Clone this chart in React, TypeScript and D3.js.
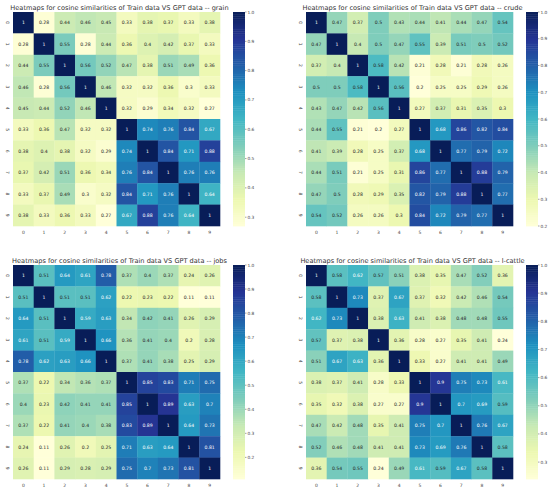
import React from 'react';
import * as d3 from 'd3';

const labels = ['0', '1', '2', '3', '4', '5', '6', '7', '8', '9'];

const grain = [
  [1, 0.28, 0.44, 0.46, 0.45, 0.33, 0.38, 0.37, 0.33, 0.38],
  [0.28, 1, 0.55, 0.28, 0.44, 0.36, 0.4, 0.42, 0.37, 0.33],
  [0.44, 0.55, 1, 0.56, 0.52, 0.47, 0.38, 0.51, 0.49, 0.36],
  [0.46, 0.28, 0.56, 1, 0.46, 0.32, 0.32, 0.36, 0.3, 0.33],
  [0.45, 0.44, 0.52, 0.46, 1, 0.32, 0.29, 0.34, 0.32, 0.27],
  [0.33, 0.36, 0.47, 0.32, 0.32, 1, 0.74, 0.76, 0.84, 0.67],
  [0.38, 0.4, 0.38, 0.32, 0.29, 0.74, 1, 0.84, 0.71, 0.88],
  [0.37, 0.42, 0.51, 0.36, 0.34, 0.76, 0.84, 1, 0.76, 0.76],
  [0.33, 0.37, 0.49, 0.3, 0.32, 0.84, 0.71, 0.76, 1, 0.64],
  [0.38, 0.33, 0.36, 0.33, 0.27, 0.67, 0.88, 0.76, 0.64, 1],
];

const crude = [
  [1, 0.47, 0.37, 0.5, 0.43, 0.44, 0.41, 0.44, 0.47, 0.54],
  [0.47, 1, 0.4, 0.5, 0.47, 0.55, 0.39, 0.51, 0.5, 0.52],
  [0.37, 0.4, 1, 0.58, 0.42, 0.21, 0.28, 0.21, 0.28, 0.26],
  [0.5, 0.5, 0.58, 1, 0.56, 0.2, 0.25, 0.25, 0.29, 0.26],
  [0.43, 0.47, 0.42, 0.56, 1, 0.27, 0.37, 0.31, 0.35, 0.3],
  [0.44, 0.55, 0.21, 0.2, 0.27, 1, 0.68, 0.86, 0.82, 0.84],
  [0.41, 0.39, 0.28, 0.25, 0.37, 0.68, 1, 0.77, 0.79, 0.72],
  [0.44, 0.51, 0.21, 0.25, 0.31, 0.86, 0.77, 1, 0.88, 0.79],
  [0.47, 0.5, 0.28, 0.29, 0.35, 0.82, 0.79, 0.88, 1, 0.77],
  [0.54, 0.52, 0.26, 0.26, 0.3, 0.84, 0.72, 0.79, 0.77, 1],
];

const jobs = [
  [1, 0.51, 0.64, 0.61, 0.78, 0.37, 0.4, 0.37, 0.24, 0.26],
  [0.51, 1, 0.51, 0.51, 0.62, 0.22, 0.23, 0.22, 0.11, 0.11],
  [0.64, 0.51, 1, 0.59, 0.63, 0.34, 0.42, 0.41, 0.26, 0.29],
  [0.61, 0.51, 0.59, 1, 0.66, 0.36, 0.41, 0.4, 0.2, 0.28],
  [0.78, 0.62, 0.63, 0.66, 1, 0.37, 0.41, 0.38, 0.25, 0.29],
  [0.37, 0.22, 0.34, 0.36, 0.37, 1, 0.85, 0.83, 0.71, 0.75],
  [0.4, 0.23, 0.42, 0.41, 0.41, 0.85, 1, 0.89, 0.63, 0.7],
  [0.37, 0.22, 0.41, 0.4, 0.38, 0.83, 0.89, 1, 0.64, 0.73],
  [0.24, 0.11, 0.26, 0.2, 0.25, 0.71, 0.63, 0.64, 1, 0.81],
  [0.26, 0.11, 0.29, 0.28, 0.29, 0.75, 0.7, 0.73, 0.81, 1],
];

const cattle = [
  [1, 0.58, 0.62, 0.57, 0.51, 0.38, 0.35, 0.47, 0.52, 0.36],
  [0.58, 1, 0.73, 0.37, 0.67, 0.37, 0.32, 0.42, 0.46, 0.54],
  [0.62, 0.73, 1, 0.38, 0.63, 0.41, 0.38, 0.48, 0.48, 0.55],
  [0.57, 0.37, 0.38, 1, 0.36, 0.28, 0.27, 0.35, 0.41, 0.24],
  [0.51, 0.67, 0.63, 0.36, 1, 0.33, 0.27, 0.41, 0.41, 0.49],
  [0.38, 0.37, 0.41, 0.28, 0.33, 1, 0.9, 0.75, 0.73, 0.61],
  [0.35, 0.32, 0.38, 0.27, 0.27, 0.9, 1, 0.7, 0.69, 0.59],
  [0.47, 0.42, 0.48, 0.35, 0.41, 0.75, 0.7, 1, 0.76, 0.67],
  [0.52, 0.46, 0.48, 0.41, 0.41, 0.73, 0.69, 0.76, 1, 0.58],
  [0.36, 0.54, 0.55, 0.24, 0.49, 0.61, 0.59, 0.67, 0.58, 1],
];

const panels = [
  { name: 'grain', data: grain, left: 13, top: 12 },
  { name: 'crude', data: crude, left: 306, top: 12 },
  { name: 'jobs', data: jobs, left: 13, top: 265 },
  { name: 'l-cattle', data: cattle, left: 306, top: 265 },
];

const W = 207;
const H = 214;
const FONT = '"DejaVu Sans", sans-serif';
const ylgnbu = d3.piecewise(d3.interpolateRgb, [...d3.schemeYlGnBu[9]]);

// seaborn-style text colour: white on dark cells
function textColor(c: string) {
  const rgb = d3.rgb(c);
  const lin = (v: number) => {
    const s = v / 255;
    return s <= 0.03928 ? s / 12.92 : Math.pow((s + 0.055) / 1.055, 2.4);
  };
  const lum = 0.2126 * lin(rgb.r) + 0.7152 * lin(rgb.g) + 0.0722 * lin(rgb.b);
  return lum > 0.408 ? '#262626' : '#ffffff';
}

function Heatmap({ name, data, left, top }: { name: string; data: number[][]; left: number; top: number }) {
  const vmin = d3.min(data.flat()) as number;
  const color = d3.scaleSequential(ylgnbu).domain([vmin, 1]);
  const x = d3.scaleBand().domain(labels).range([left, left + W]);
  const y = d3.scaleBand().domain(labels).range([top, top + H]);
  const cbX = left + 220;
  const cbW = 12;
  const cb = d3.scaleLinear().domain([vmin, 1]).range([top + H, top]);
  const n = 100;
  const step = (1 - vmin) / n;
  const steps = d3.range(0, n).map(i => vmin + step * i);
  const ticks = d3.range(2, 11).map(t => t / 10).filter(t => t >= vmin - 1e-9);

  return (
    <g>
      <text x={left + W / 2 + 3} y={top - 2.5} textAnchor="middle" fontFamily={FONT} fontSize={6.6} fill="#333333">
        {`Heatmaps for cosine similarities of Train data VS GPT data -- ${name}`}
      </text>
      {data.map((row, i) =>
        row.map((v, j) => {
          const c = color(v);
          return (
            <g key={`${i}-${j}`}>
              <rect x={x(labels[j])} y={y(labels[i])} width={x.bandwidth() + 0.3} height={y.bandwidth() + 0.3} fill={c} />
              <text
                x={(x(labels[j]) as number) + x.bandwidth() / 2}
                y={(y(labels[i]) as number) + y.bandwidth() / 2}
                dy="0.35em"
                textAnchor="middle"
                fontFamily={FONT}
                fontSize={4.6}
                fill={textColor(c)}
              >
                {String(v)}
              </text>
            </g>
          );
        })
      )}
      {labels.map(l => (
        <text key={'x' + l} x={(x(l) as number) + x.bandwidth() / 2} y={top + H + 7.5} textAnchor="middle" fontFamily={FONT} fontSize={4.5} fill="#444">
          {l}
        </text>
      ))}
      {labels.map(l => {
        const cy = (y(l) as number) + y.bandwidth() / 2;
        const cx = left - 5;
        return (
          <text key={'y' + l} x={cx} y={cy} transform={`rotate(90 ${cx} ${cy})`} textAnchor="middle" dy="0.35em" fontFamily={FONT} fontSize={4.5} fill="#444">
            {l}
          </text>
        );
      })}
      {steps.map((s, k) => (
        <rect key={'cb' + k} x={cbX} y={cb(s + step)} width={cbW} height={Math.abs(cb(s) - cb(s + step)) + 0.4} fill={color(s + step / 2)} />
      ))}
      {ticks.map(t => (
        <g key={'t' + t}>
          <line x1={cbX + cbW} x2={cbX + cbW + 1.5} y1={cb(t)} y2={cb(t)} stroke="#444" strokeWidth={0.5} />
          <text x={cbX + cbW + 2.5} y={cb(t)} dy="0.35em" fontFamily={FONT} fontSize={4.3} fill="#444">
            {t.toFixed(1)}
          </text>
        </g>
      ))}
    </g>
  );
}

export default function App() {
  return (
    <svg width={550} height={491} style={{ position: 'absolute', left: 0, top: 0, background: '#fff' }}>
      {panels.map(p => (
        <Heatmap key={p.name} {...p} />
      ))}
    </svg>
  );
}
